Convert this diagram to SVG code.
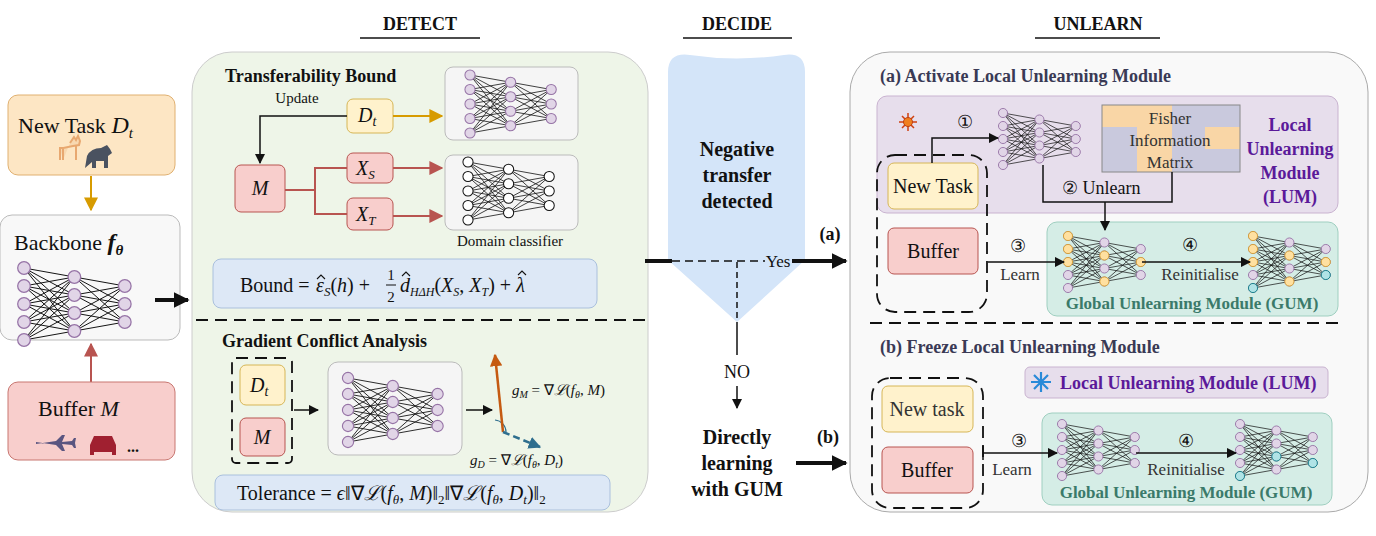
<svg xmlns="http://www.w3.org/2000/svg" width="1376" height="536" viewBox="0 0 1376 536" font-family="Liberation Serif, serif">
<style>
text,tspan{font-family:"Liberation Serif",serif}
text{fill:#111}
.t{font-size:20px}
.b{font-weight:bold}
.i{font-style:italic}
.h{font-size:18px;font-weight:bold}
.yel{fill:#fff2cc;stroke:#d6b656;stroke-width:1}
.red{fill:#f8cecc;stroke:#b85450;stroke-width:1}
.nb{fill:#f5f5f5;stroke:#bbb;stroke-width:1}
.dash{fill:none;stroke:#111;stroke-width:1.8;stroke-dasharray:12 7}
.np{fill:#e1d5e7;stroke:#9673a6;stroke-width:.7}
.ny{fill:#ffe0a0;stroke:#d6a030;stroke-width:.7}
.nc{fill:#b0e3e6;stroke:#0e8088;stroke-width:.7}
.nw{fill:#fff;stroke:#111;stroke-width:.7}
.ln{stroke:#111;stroke-width:1.5;fill:none}
.hat{fill:none;stroke:#111;stroke-width:1.1}
</style>
<defs>
<marker id="ah" viewBox="0 0 10 10" refX="9" refY="5" markerWidth="7" markerHeight="7" orient="auto-start-reverse"><path d="M0,0L10,5L0,10z" fill="#111"/></marker>
<marker id="ahO" viewBox="0 0 10 10" refX="9" refY="5" markerWidth="7" markerHeight="7" orient="auto"><path d="M0,0L10,5L0,10z" fill="#d79b00"/></marker>
<marker id="ahR" viewBox="0 0 10 10" refX="9" refY="5" markerWidth="7" markerHeight="7" orient="auto"><path d="M0,0L10,5L0,10z" fill="#b85450"/></marker>
<marker id="ahB" viewBox="0 0 10 10" refX="9" refY="5" markerWidth="4" markerHeight="4" orient="auto"><path d="M0,0L10,5L0,10z" fill="#111"/></marker>
<marker id="ahOr" viewBox="0 0 10 10" refX="9" refY="5" markerWidth="5" markerHeight="5" orient="auto"><path d="M0,0L10,5L0,10z" fill="#c55a11"/></marker>
<marker id="ahTl" viewBox="0 0 10 10" refX="9" refY="5" markerWidth="5" markerHeight="5" orient="auto"><path d="M0,0L10,5L0,10z" fill="#2e6e8e"/></marker>
<g id="edges" stroke="#111" stroke-width="0.55">
<path d="M0,0L28,5M0,0L28,15M0,0L28,25M0,0L28,35M0,10L28,5M0,10L28,15M0,10L28,25M0,10L28,35M0,20L28,5M0,20L28,15M0,20L28,25M0,20L28,35M0,30L28,5M0,30L28,15M0,30L28,25M0,30L28,35M0,40L28,5M0,40L28,15M0,40L28,25M0,40L28,35M28,5L56,10M28,5L56,20M28,5L56,30M28,15L56,10M28,15L56,20M28,15L56,30M28,25L56,10M28,25L56,20M28,25L56,30M28,35L56,10M28,35L56,20M28,35L56,30"/>
</g>
<g id="nodes">
<circle cx="0" cy="0" r="3.5"/><circle cx="0" cy="10" r="3.5"/><circle cx="0" cy="20" r="3.5"/><circle cx="0" cy="30" r="3.5"/><circle cx="0" cy="40" r="3.5"/>
<circle cx="28" cy="5" r="3.5"/><circle cx="28" cy="15" r="3.5"/><circle cx="28" cy="25" r="3.5"/><circle cx="28" cy="35" r="3.5"/>
<circle cx="56" cy="10" r="3.5"/><circle cx="56" cy="20" r="3.5"/><circle cx="56" cy="30" r="3.5"/>
</g>
<g id="netP"><use href="#edges"/><use href="#nodes" class="np"/></g>
<g id="netW"><use href="#edges"/><use href="#nodes" class="nw"/></g>
</defs>

<g id="titles">
<text x="420" y="30" class="h" text-anchor="middle">DETECT</text>
<line x1="360" y1="38" x2="480" y2="38" stroke="#111" stroke-width="1.5"/>
<text x="737" y="30" class="h" text-anchor="middle">DECIDE</text>
<line x1="683" y1="38" x2="792" y2="38" stroke="#111" stroke-width="1.5"/>
<text x="1098" y="30" class="h" text-anchor="middle">UNLEARN</text>
<line x1="1035" y1="38" x2="1160" y2="38" stroke="#111" stroke-width="1.5"/>
</g>

<g id="newtask">
<rect x="8" y="95" width="167" height="80" rx="10" fill="#fde6c4" stroke="#e0b070"/>
<text x="18" y="133" font-size="22">New Task <tspan class="i" font-size="24">D</tspan><tspan class="i" font-size="15" dy="5">t</tspan></text>
<path d="M70,143 l4,-6 l2,3 l2,-4 l2,5 l-1,4 l-6,1 l-10,2 l0,12 m0,-12 l-3,0 l0,12 m16,-15 l0,15" stroke="#e8a870" stroke-width="2" fill="#f8d8b0"/>
<path d="M85,168 l2,-12 q4,-8 14,-8 l6,-3 l3,4 l2,4 l-4,3 l0,12 l-4,0 l0,-7 l-8,0 l0,7 l-4,0 l0,-6 z" fill="#4a5260"/>
</g>
<line x1="91" y1="176" x2="91" y2="210" stroke="#d79b00" stroke-width="2" marker-end="url(#ahO)"/>
<g id="backbone">
<rect x="0" y="215" width="180" height="125" rx="12" fill="#f8f8f8" stroke="#bbb"/>
<text x="14" y="250" font-size="22">Backbone <tspan class="i b" font-size="24">f</tspan><tspan class="i b" font-size="15" dy="5">θ</tspan></text>
<use href="#netP" transform="translate(24,268) scale(1.8)"/>
</g>
<line x1="91" y1="382" x2="91" y2="344" stroke="#b85450" stroke-width="2" marker-end="url(#ahR)"/>
<g id="buffer">
<rect x="8" y="382" width="167" height="78" rx="10" fill="#f8cecc" stroke="#c87670"/>
<text x="38" y="416" font-size="22">Buffer <tspan class="i">M</tspan></text>
<path d="M36,444 l20,-3 l6,-6 l3,0 l-3,7 l10,-1 l2,-3 l2,0 l-1,5 l1,5 l-2,0 l-2,-3 l-10,-1 l3,7 l-3,0 l-6,-6 l-20,-3 z" fill="#5a5580"/>
<path d="M90,455 l0,-10 l4,-9 l18,0 l4,9 l0,10 l-4,0 l0,-3 l-18,0 l0,3 z" fill="#a02030"/>
<text x="127" y="452" class="b" font-size="16">...</text>
</g>
<line x1="155" y1="300" x2="188" y2="300" stroke="#111" stroke-width="4" marker-end="url(#ahB)"/>

<g id="detect">
<rect x="192" y="52" width="456" height="460" rx="40" fill="#eef5e8" stroke="#ccc"/>
<text x="225" y="82" class="b" font-size="18">Transferability Bound</text>
<rect x="445" y="67" width="133" height="73" rx="8" class="nb"/>
<use href="#netP" transform="translate(470,75) scale(1.45)"/>
<rect x="445" y="155" width="133" height="75" rx="8" class="nb"/>
<use href="#netW" transform="translate(468,162) scale(1.45)"/>
<text x="510" y="246" text-anchor="middle" font-size="15">Domain classifier</text>
</g>
<g id="dt1"><rect x="347" y="99" width="46" height="34" rx="6" class="yel"/><text x="358" y="122" class="i" font-size="20">D<tspan font-size="14" dy="4">t</tspan></text></g>
<g id="m1"><rect x="235" y="165" width="50" height="47" rx="6" class="red"/><text x="260" y="195" class="i" font-size="20" text-anchor="middle">M</text></g>
<g id="xs"><rect x="347" y="153" width="46" height="30" rx="6" class="red"/><text x="356" y="175" class="i" font-size="20">X<tspan font-size="13" dy="4">S</tspan></text></g>
<g id="xt"><rect x="347" y="198" width="46" height="32" rx="6" class="red"/><text x="356" y="221" class="i" font-size="20">X<tspan font-size="13" dy="4">T</tspan></text></g>
<g id="bound">
<rect x="213" y="259" width="384" height="49" rx="8" fill="#dde8f6" stroke="#aac0dd"/>
<text x="240" y="292" class="t">Bound =</text>
<text x="316" y="292" class="t i">ε<tspan font-size="13" dy="4">S</tspan><tspan dy="-4" font-style="normal">(</tspan>h<tspan font-style="normal">) +</tspan></text>
<path d="M317,279 l4,-4 l4,4" class="hat"/>
<text x="391" y="280" font-size="15" text-anchor="middle">1</text>
<line x1="386" y1="285" x2="396" y2="285" stroke="#111"/>
<text x="391" y="302" font-size="15" text-anchor="middle">2</text>
<text x="400" y="292" class="t i">d<tspan font-size="12" dy="4">HΔH</tspan><tspan dy="-4" font-style="normal">(</tspan>X<tspan font-size="12" dy="4">S</tspan><tspan dy="-4" font-style="normal">, </tspan>X<tspan font-size="12" dy="4">T</tspan><tspan dy="-4" font-style="normal">) + </tspan>λ</text>
<path d="M402,276 l4,-4 l4,4" class="hat"/>
<path d="M518,275 l4,-4 l4,4" class="hat"/>
</g>
<line x1="196" y1="320" x2="645" y2="320" class="dash"/>
<g id="gca">
<text x="222" y="347" class="b" font-size="18">Gradient Conflict Analysis</text>
<rect x="232" y="358" width="60" height="105" rx="4" class="dash" stroke-width="1.5"/>
<rect x="240" y="365" width="45" height="40" rx="6" class="yel"/><text x="250" y="392" class="i" font-size="20">D<tspan font-size="14" dy="4">t</tspan></text>
<rect x="240" y="418" width="45" height="38" rx="6" class="red"/><text x="262" y="444" class="i" font-size="20" text-anchor="middle">M</text>
<rect x="328" y="362" width="134" height="93" rx="10" class="nb"/>
<use href="#netP" transform="translate(348,378) scale(1.6)"/>
<text x="512" y="395" class="i" font-size="15">g<tspan font-size="10" dy="3">M</tspan><tspan dy="-3" font-style="normal"> = ∇</tspan>ℒ<tspan font-style="normal">(</tspan>f<tspan font-size="10" dy="3">θ</tspan><tspan dy="-3" font-style="normal">, </tspan>M<tspan font-style="normal">)</tspan></text>
<text x="470" y="465" class="i" font-size="15">g<tspan font-size="10" dy="3">D</tspan><tspan dy="-3" font-style="normal"> = ∇</tspan>ℒ<tspan font-style="normal">(</tspan>f<tspan font-size="10" dy="3">θ</tspan><tspan dy="-3" font-style="normal">, </tspan>D<tspan font-size="10" dy="3">t</tspan><tspan dy="-3" font-style="normal">)</tspan></text>
<path d="M506,432 A12,12 0 0 0 495,420" fill="none" stroke="#2e6e8e" stroke-width="1.2"/>
<rect x="215" y="475" width="395" height="35" rx="8" fill="#dde8f6" stroke="#aac0dd"/>
<text x="237" y="500" class="t">Tolerance = <tspan class="i">ϵ</tspan>‖∇<tspan class="i">ℒ</tspan>(<tspan class="i">f</tspan><tspan class="i" font-size="13" dy="4">θ</tspan><tspan dy="-4">, </tspan><tspan class="i">M</tspan>)‖<tspan font-size="13" dy="4">2</tspan><tspan dy="-4">‖∇</tspan><tspan class="i">ℒ</tspan>(<tspan class="i">f</tspan><tspan class="i" font-size="13" dy="4">θ</tspan><tspan dy="-4">, </tspan><tspan class="i">D</tspan><tspan class="i" font-size="13" dy="4">t</tspan><tspan dy="-4">)‖</tspan><tspan font-size="13" dy="4">2</tspan></text>
</g>

<g id="decide">
<path d="M668,72 Q668,52 690,55 Q737,62 784,55 Q805,52 805,72 L805,260 L737,322 L668,260 Z" fill="#d4e5f9"/>
<text x="737" y="156" class="b" font-size="20" text-anchor="middle">Negative</text>
<text x="737" y="182" class="b" font-size="20" text-anchor="middle">transfer</text>
<text x="737" y="208" class="b" font-size="20" text-anchor="middle">detected</text>
</g>
<g id="direct">
<text x="737" y="444" class="b" font-size="20" text-anchor="middle">Directly</text>
<text x="737" y="470" class="b" font-size="20" text-anchor="middle">learning</text>
<text x="737" y="496" class="b" font-size="20" text-anchor="middle">with GUM</text>
</g>

<g id="unlearn">
<rect x="850" y="52" width="518" height="460" rx="40" fill="#f9f9f9" stroke="#aaa"/>
<text x="880" y="82" class="b" font-size="18" style="fill:#3a3a55">(a) Activate Local Unlearning Module</text>
</g>
<g id="lumA">
<rect x="877" y="96" width="461" height="117" rx="10" fill="#e7deec" stroke="#c9b3d0"/>
<g stroke="#d04010" stroke-width="1.5"><path d="M899,122h18M908,113v18M902,116l12,12M914,116l-12,12"/></g>
<circle cx="908" cy="122" r="4.5" fill="#f08020" stroke="#c04010"/>
<text x="965" y="128" font-size="18" text-anchor="middle">①</text>
<use href="#netP" transform="translate(1003,113) scale(1.3)"/>
<g id="fisher">
<rect x="1102" y="105" width="35" height="22" fill="#f9d6a6"/><rect x="1102" y="127" width="35" height="45" fill="#c9c9dd"/>
<rect x="1137" y="105" width="35" height="67" fill="#f9d6a6"/>
<rect x="1172" y="105" width="33" height="67" fill="#c9c9dd"/>
<rect x="1205" y="105" width="35" height="22" fill="#c9c9dd"/><rect x="1205" y="127" width="35" height="22" fill="#f9d6a6"/><rect x="1205" y="149" width="35" height="23" fill="#c9c9dd"/>
<rect x="1102" y="105" width="138" height="67" fill="none" stroke="#888"/>
<text x="1170" y="124" font-size="17" text-anchor="middle" style="fill:#333">Fisher</text>
<text x="1170" y="146" font-size="17" text-anchor="middle" style="fill:#333">Information</text>
<text x="1170" y="168" font-size="17" text-anchor="middle" style="fill:#333">Matrix</text>
</g>
<g class="b" font-size="18" text-anchor="middle">
<text x="1290" y="131" style="fill:#5b1a9a">Local</text><text x="1290" y="155" style="fill:#5b1a9a">Unlearning</text><text x="1290" y="179" style="fill:#5b1a9a">Module</text><text x="1290" y="203" style="fill:#5b1a9a">(LUM)</text>
</g>
<text x="1062" y="194" font-size="18">② Unlearn</text>
</g>
<g id="sideA">
<rect x="877" y="155" width="110" height="157" rx="18" class="dash" stroke-width="1.5"/>
<rect x="888" y="163" width="90" height="46" rx="6" class="yel"/><text x="933" y="193" class="t" text-anchor="middle">New Task</text>
<rect x="888" y="228" width="90" height="46" rx="6" class="red"/><text x="933" y="258" class="t" text-anchor="middle">Buffer</text>
</g>
<g id="gumA">
<rect x="1047" y="222" width="291" height="94" rx="10" fill="#d5ede6" stroke="#9fcfc0"/>
<use href="#netP" transform="translate(1068,236) scale(1.3)"/>
<g transform="translate(1068,236) scale(1.3)" class="ny"><circle cx="0" cy="0" r="3.5"/><circle cx="0" cy="10" r="3.5"/><circle cx="0" cy="20" r="3.5"/><circle cx="28" cy="15" r="3.5"/><circle cx="28" cy="35" r="3.5"/><circle cx="56" cy="20" r="3.5"/></g>
<use href="#netP" transform="translate(1253,236) scale(1.3)"/>
<g transform="translate(1253,236) scale(1.3)" class="ny"><circle cx="0" cy="0" r="3.5"/><circle cx="0" cy="10" r="3.5"/><circle cx="0" cy="20" r="3.5"/><circle cx="28" cy="15" r="3.5"/><circle cx="28" cy="35" r="3.5"/><circle cx="56" cy="20" r="3.5"/></g>
<g transform="translate(1253,236) scale(1.3)" class="nc"><circle cx="0" cy="40" r="3.5"/><circle cx="56" cy="30" r="3.5"/></g>
<text x="1190" y="251" font-size="18" text-anchor="middle">④</text>
<text x="1200" y="280" font-size="17" text-anchor="middle" style="fill:#333">Reinitialise</text>
<text x="1192" y="309" class="b" font-size="17" text-anchor="middle" style="fill:#3b7a6a">Global Unlearning Module (GUM)</text>
<text x="1018" y="252" font-size="18" text-anchor="middle">③</text>
<text x="1020" y="280" font-size="17" text-anchor="middle" style="fill:#333">Learn</text>
</g>
<line x1="870" y1="323" x2="1342" y2="323" class="dash"/>
<text x="880" y="353" class="b" font-size="18" style="fill:#3a3a55">(b) Freeze Local Unlearning Module</text>
<g id="lumB">
<rect x="1025" y="367" width="303" height="31" rx="5" fill="#e7deec" stroke="#c9b3d0"/>
<g stroke="#2a8ad8" stroke-width="2.2"><path d="M1031,382h20M1041,372v20M1034,375l14,14M1048,375l-14,14"/></g>
<text x="1060" y="389" class="b" font-size="18" style="fill:#5b1a9a">Local Unlearning Module (LUM)</text>
</g>
<g id="sideB">
<rect x="872" y="378" width="111" height="130" rx="18" class="dash" stroke-width="1.5"/>
<rect x="882" y="386" width="91" height="46" rx="6" class="yel"/><text x="927" y="416" class="t" text-anchor="middle" style="fill:#333">New task</text>
<rect x="882" y="447" width="91" height="46" rx="6" class="red"/><text x="927" y="477" class="t" text-anchor="middle">Buffer</text>
</g>
<g id="gumB">
<rect x="1042" y="413" width="290" height="92" rx="10" fill="#d5ede6" stroke="#9fcfc0"/>
<use href="#netP" transform="translate(1062,424) scale(1.3)"/>
<use href="#netP" transform="translate(1240,424) scale(1.3)"/>
<g transform="translate(1240,424) scale(1.3)" class="nc"><circle cx="0" cy="40" r="3.5"/><circle cx="28" cy="25" r="3.5"/><circle cx="56" cy="30" r="3.5"/></g>
<text x="1186" y="447" font-size="18" text-anchor="middle">④</text>
<text x="1186" y="475" font-size="17" text-anchor="middle" style="fill:#333">Reinitialise</text>
<text x="1186" y="498" class="b" font-size="17" text-anchor="middle" style="fill:#3b7a6a">Global Unlearning Module (GUM)</text>
<text x="1019" y="447" font-size="18" text-anchor="middle">③</text>
<text x="1012" y="475" font-size="17" text-anchor="middle" style="fill:#333">Learn</text>
</g>

<g id="connectors">
<line x1="393" y1="116" x2="442" y2="116" stroke="#d79b00" stroke-width="2" marker-end="url(#ahO)"/>
<text x="297" y="103" font-size="15" text-anchor="middle">Update</text>
<polyline points="347,116 260,116 260,163" class="ln" marker-end="url(#ah)"/>
<polyline points="285,190 315,190" stroke="#b85450" stroke-width="2" fill="none"/>
<polyline points="347,168 315,168 315,214 347,214" stroke="#b85450" stroke-width="2" fill="none"/>
<line x1="393" y1="168" x2="442" y2="168" stroke="#b85450" stroke-width="2" marker-end="url(#ahR)"/>
<line x1="393" y1="216" x2="442" y2="216" stroke="#b85450" stroke-width="2" marker-end="url(#ahR)"/>
<line x1="294" y1="410" x2="318" y2="410" class="ln" marker-end="url(#ah)"/>
<line x1="466" y1="410" x2="492" y2="410" class="ln" marker-end="url(#ah)"/>
<line x1="503" y1="432" x2="495" y2="355" stroke="#c55a11" stroke-width="2.5" marker-end="url(#ahOr)"/>
<line x1="503" y1="432" x2="540" y2="447" stroke="#2e6e8e" stroke-width="2.5" stroke-dasharray="7 4" marker-end="url(#ahTl)"/>
<line x1="645" y1="261" x2="672" y2="261" stroke="#111" stroke-width="4"/>
<line x1="672" y1="261" x2="765" y2="261" stroke="#111" stroke-width="1.5" stroke-dasharray="8 5"/>
<text x="778" y="267" font-size="17" text-anchor="middle">Yes</text>
<line x1="792" y1="261" x2="846" y2="261" stroke="#111" stroke-width="4" marker-end="url(#ahB)"/>
<text x="830" y="240" class="b" font-size="18" text-anchor="middle">(a)</text>
<line x1="737" y1="262" x2="737" y2="325" stroke="#111" stroke-width="1.5" stroke-dasharray="6 4"/>
<line x1="737" y1="325" x2="737" y2="355" stroke="#111" stroke-width="1.5"/>
<text x="737" y="378" font-size="18" text-anchor="middle">NO</text>
<line x1="737" y1="386" x2="737" y2="408" class="ln" marker-end="url(#ah)"/>
<text x="828" y="443" class="b" font-size="18" text-anchor="middle">(b)</text>
<line x1="796" y1="463" x2="846" y2="463" stroke="#111" stroke-width="4" marker-end="url(#ahB)"/>
<polyline points="932,163 932,138 998,138" class="ln" marker-end="url(#ah)"/>
<polyline points="1043,165 1043,202 1172,202 1172,172" class="ln"/>
<line x1="1105" y1="202" x2="1105" y2="230" class="ln" marker-end="url(#ah)"/>
<line x1="988" y1="262" x2="1064" y2="262" class="ln" marker-end="url(#ah)"/>
<line x1="1142" y1="262" x2="1250" y2="262" class="ln" marker-end="url(#ah)"/>
<line x1="983" y1="453" x2="1057" y2="453" class="ln" marker-end="url(#ah)"/>
<line x1="983" y1="446" x2="983" y2="460" class="ln"/>
<line x1="1136" y1="453" x2="1236" y2="453" class="ln" marker-end="url(#ah)"/>
</g>
</svg>
